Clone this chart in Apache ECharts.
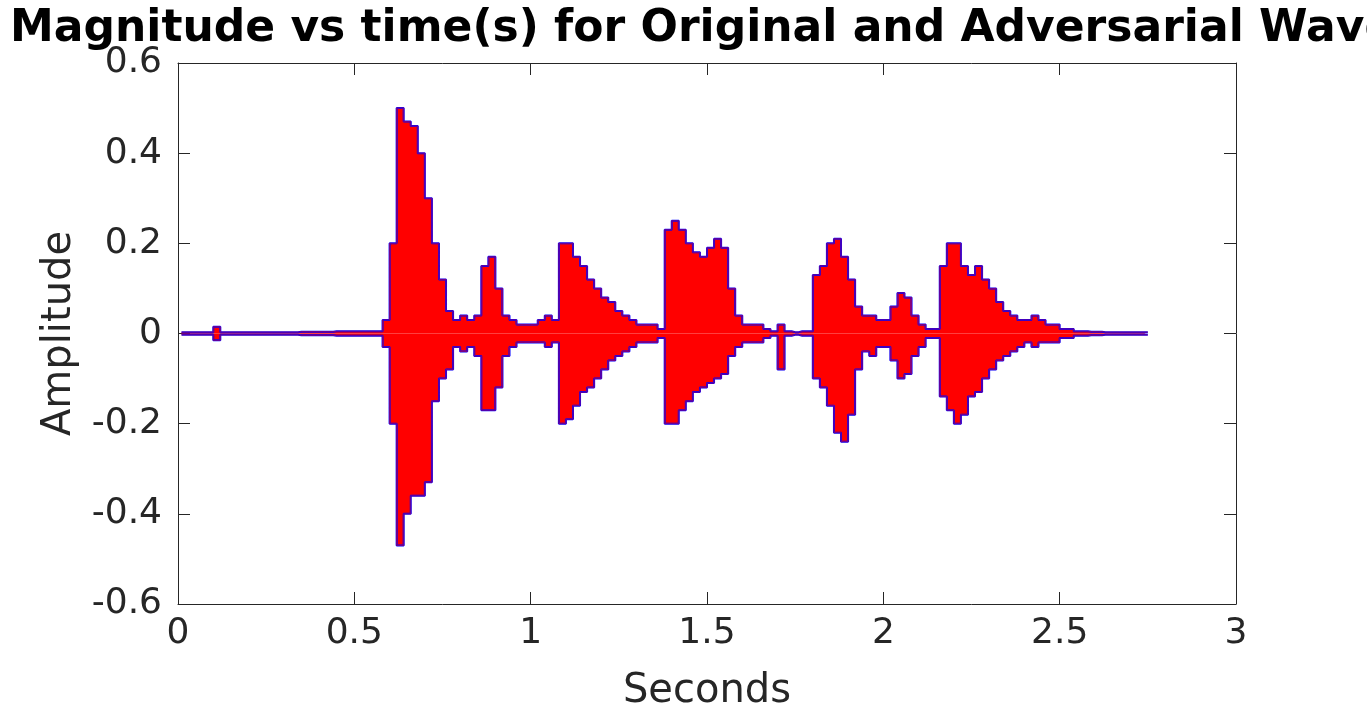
<!DOCTYPE html>
<html><head><meta charset="utf-8">
<script src="https://cdn.jsdelivr.net/npm/echarts@6/dist/echarts.min.js"></script>
<style>html,body{margin:0;padding:0;background:#fff}#c{width:1367px;height:717px}</style>
</head><body><div id="c"></div>
<script>
const t0 = 0.01, dt = 0.02;
const upper = [0.003,0.003,0.003,0.003,0.003,0.015,0.003,0.003,0.003,0.003,0.003,0.003,0.003,0.003,0.003,0.003,0.003,0.004,0.004,0.004,0.004,0.004,0.005,0.005,0.005,0.005,0.005,0.005,0.005,
0.03,0.2,0.5,0.47,0.46,0.4,0.3,0.2,0.12,0.05,0.03,0.04,0.03,0.04,0.15,0.17,0.1,0.04,0.03,0.02,0.02,0.02,0.03,0.04,0.03,
0.2,0.2,0.17,0.15,0.12,0.1,0.08,0.07,0.05,0.04,0.03,0.02,0.02,0.02,0.01,
0.23,0.25,0.23,0.2,0.18,0.17,0.19,0.21,0.19,0.1,0.04,0.02,0.02,0.02,0.01,0.005,0.02,0.005,0.003,0.005,0.005,
0.13,0.15,0.2,0.21,0.17,0.12,0.06,0.04,0.04,0.03,0.03,0.06,0.09,0.08,0.04,0.02,0.01,0.01,
0.15,0.2,0.2,0.15,0.13,0.15,0.12,0.1,0.07,0.05,0.04,0.03,0.03,0.04,0.03,0.02,0.02,0.01,0.01,0.005,0.005,0.004,0.004,0.003,0.003,0.003,0.003,0.003,0.003,0.003];
const lower = [-0.003,-0.003,-0.003,-0.003,-0.003,-0.015,-0.003,-0.003,-0.003,-0.003,-0.003,-0.003,-0.003,-0.003,-0.003,-0.003,-0.003,-0.004,-0.004,-0.004,-0.004,-0.004,-0.005,-0.005,-0.005,-0.005,-0.005,-0.005,-0.005,
-0.03,-0.2,-0.47,-0.4,-0.36,-0.36,-0.33,-0.15,-0.1,-0.08,-0.03,-0.04,-0.03,-0.05,-0.17,-0.17,-0.12,-0.05,-0.03,-0.02,-0.02,-0.02,-0.02,-0.03,-0.02,
-0.2,-0.19,-0.16,-0.13,-0.12,-0.1,-0.08,-0.06,-0.05,-0.04,-0.03,-0.02,-0.02,-0.02,-0.01,
-0.2,-0.2,-0.17,-0.15,-0.13,-0.12,-0.11,-0.1,-0.09,-0.05,-0.03,-0.02,-0.02,-0.02,-0.01,-0.005,-0.08,-0.005,-0.003,-0.005,-0.005,
-0.1,-0.12,-0.16,-0.22,-0.24,-0.18,-0.08,-0.04,-0.05,-0.03,-0.03,-0.06,-0.1,-0.09,-0.05,-0.03,-0.01,-0.01,
-0.14,-0.17,-0.2,-0.18,-0.14,-0.13,-0.1,-0.08,-0.06,-0.05,-0.04,-0.03,-0.02,-0.03,-0.02,-0.02,-0.02,-0.01,-0.01,-0.005,-0.005,-0.004,-0.004,-0.003,-0.003,-0.003,-0.003,-0.003,-0.003,-0.003];
const xTicks = [0,0.5,1,1.5,2,2.5,3];
const yTicks = [-0.6,-0.4,-0.2,0,0.2,0.4,0.6];

const up = upper.map((v,i)=>[+(t0+i*dt).toFixed(3), v]);
const lo = lower.map((v,i)=>[+(t0+i*dt).toFixed(3), v]);
const font = 'DejaVu Sans';
const lab = {fontFamily:font,fontSize:36,color:'#262626'};
const ax = {lineStyle:{color:'#262626',width:1}};
function xa(show){return {type:'value',min:0,max:3,interval:0.5,position:show?'bottom':'top',
  axisLine:{show:true,onZero:false,...ax},axisTick:{inside:true,length:12,...ax},splitLine:{show:false},
  axisLabel:{show:show,...lab,margin:12,formatter:v=>String(v)},
  name:show?'Seconds':'',nameLocation:'middle',nameGap:68,nameTextStyle:{fontFamily:font,fontSize:40,color:'#262626'}};}
function ya(show){return {type:'value',min:-0.6,max:0.6,interval:0.2,position:show?'left':'right',
  axisLine:{show:true,onZero:false,...ax},axisTick:{inside:true,length:12,...ax},splitLine:{show:false},
  axisLabel:{show:show,...lab,margin:16,formatter:v=>String(+v.toFixed(1))},
  name:show?'Amplitude':'',nameLocation:'middle',nameGap:98,nameTextStyle:{fontFamily:font,fontSize:40,color:'#262626'}};}
const mk=(data,color,w,area)=>({type:'line',data,step:'middle',symbol:'none',animation:false,
  lineStyle:{color,width:w},areaStyle:area?{color:'#ff0000',opacity:1,origin:0}:undefined,xAxisIndex:0,yAxisIndex:0});
echarts.init(document.getElementById('c')).setOption({
  title:{text:'Magnitude vs time(s) for Original and Adversarial Waveforms',left:5,top:3,
    textStyle:{fontFamily:font,fontSize:44,fontWeight:'bold',color:'#000'}},
  grid:{left:178,right:131,top:63,bottom:113},
  xAxis:[xa(true),xa(false)], yAxis:[ya(true),ya(false)],
  series:[mk(up,'#0000ff',2,false),mk(lo,'#0000ff',2,false),mk(up,'#ff0000',0.5,true),mk(lo,'#ff0000',0.5,true)]
});
</script></body></html>
